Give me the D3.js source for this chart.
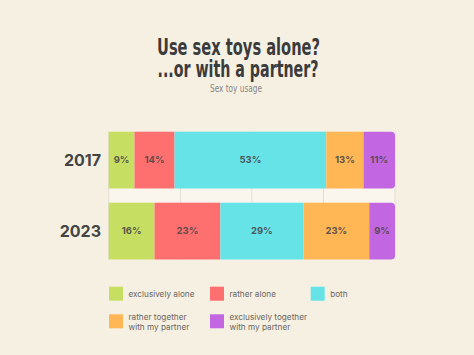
<!DOCTYPE html>
<html><head><meta charset="utf-8">
<script src="https://cdn.jsdelivr.net/npm/d3@7"></script>
<style>
html,body{margin:0;padding:0;background:#f6f0e3;}
svg{display:block;}
</style></head>
<body>
<svg id="chart" width="474" height="355"></svg>
<script>
const years = ["2017", "2023"];
const categories = ["exclusively alone", "rather alone", "both", "rather together with my partner", "exclusively together with my partner"];
const values2017 = [9, 14, 53, 13, 11];
const values2023 = [16, 23, 29, 23, 9];
const seriesValues = [values2017, values2023];
const colors = ["#c6df62", "#fe7070", "#66e3e7", "#ffb655", "#c266e1"];
const ticks = [0, 25, 50, 75, 100];
const legendLines = [["exclusively alone"], ["rather alone"], ["both"], ["rather together", "with my partner"], ["exclusively together", "with my partner"]];

const svg = d3.select("#chart");
svg.append("rect").attr("width", 474).attr("height", 355).attr("fill", "#f6f0e3");

const x = d3.scaleLinear().domain([0, 100]).range([108.7, 395]);
const y = d3.scaleBand().domain(years).range([131.7, 259.5]).paddingInner(0.2);

// plot background band
svg.append("rect").attr("x", x(0)).attr("y", y.range()[0]).attr("width", x(100) - x(0))
  .attr("height", y.range()[1] - y.range()[0]).attr("fill", "#faf6ee");
// gridlines
svg.append("g").selectAll("line").data(ticks).join("line")
  .attr("x1", d => x(d)).attr("x2", d => x(d))
  .attr("y1", y.range()[0]).attr("y2", y.range()[1])
  .attr("stroke", "#e2ddd2").attr("stroke-width", 1);

// title
const titleFont = "'Liberation Sans Narrow','DejaVu Sans Condensed','Roboto',sans-serif";
svg.append("text").attr("x", 238.5).attr("y", 55).attr("text-anchor", "middle").attr("fill", "#3b3b3b")
  .style("font-family", titleFont).style("font-weight", "bold").style("font-size", "23px")
  .attr("textLength", 163).attr("lengthAdjust", "spacingAndGlyphs").text("Use sex toys alone?");
svg.append("text").attr("x", 238).attr("y", 77).attr("text-anchor", "middle").attr("fill", "#3b3b3b")
  .style("font-family", titleFont).style("font-weight", "bold").style("font-size", "23px")
  .attr("textLength", 161).attr("lengthAdjust", "spacingAndGlyphs").text("...or with a partner?");
svg.append("text").attr("x", 236).attr("y", 92).attr("text-anchor", "middle")
  .attr("fill", "#8a8580")
  .style("font-family", titleFont)
  .style("font-size", "10px").attr("textLength", 52).attr("lengthAdjust", "spacingAndGlyphs")
  .text("Sex toy usage");

// bars
years.forEach((yr, i) => {
  const vals = seriesValues[i];
  let cum = 0;
  const segs = vals.map((v, j) => { const s = {x0: cum, x1: cum + v, v, j}; cum += v; return s; });
  const g = svg.append("g");
  const bh = y.bandwidth();
  const y0 = y(yr);
  segs.forEach(s => {
    const last = s.j === segs.length - 1;
    const x0 = x(s.x0), x1 = x(s.x1);
    if (last) {
      const r = 4;
      const p = d3.path();
      p.moveTo(x0, y0);
      p.lineTo(x1 - r, y0);
      p.arcTo(x1, y0, x1, y0 + r, r);
      p.lineTo(x1, y0 + bh - r);
      p.arcTo(x1, y0 + bh, x1 - r, y0 + bh, r);
      p.lineTo(x0, y0 + bh);
      p.closePath();
      g.append("path").attr("d", p.toString()).attr("fill", colors[s.j]);
    } else {
      g.append("rect").attr("x", x0).attr("y", y0).attr("width", x1 - x0).attr("height", bh)
        .attr("fill", colors[s.j]);
    }
    g.append("text").attr("x", (x0 + x1) / 2).attr("y", y0 + bh / 2).attr("dy", "0.35em")
      .attr("text-anchor", "middle").attr("fill", "#4a4747").attr("fill-opacity", 0.9)
      .style("font-family", "Inter, 'DejaVu Sans', sans-serif").style("font-weight", "bold")
      .style("font-size", "9.5px").text(s.v + "%");
  });
  svg.append("text").attr("x", 101).attr("y", y0 + bh / 2).attr("dy", "0.36em")
    .attr("text-anchor", "end").attr("fill", "#444")
    .style("font-family", "Inter, 'DejaVu Sans', sans-serif").style("font-weight", "bold")
    .style("font-size", "16px").text(yr);
});

// legend
const legPos = [[109, 286.7], [210, 286.7], [310.7, 286.7], [109, 314.3], [210, 314.3]];
categories.forEach((c, i) => {
  const [lx, ly] = legPos[i];
  svg.append("rect").attr("x", lx).attr("y", ly).attr("width", 14).attr("height", 14).attr("fill", colors[i]);
  const lines = legendLines[i];
  const t = svg.append("text").attr("fill", "#6a6560")
    .style("font-family", "Inter, 'DejaVu Sans', sans-serif").style("font-size", "8.2px");
  if (lines.length === 1) {
    t.append("tspan").attr("x", lx + 19.5).attr("y", ly + 10).text(lines[0]);
  } else {
    t.append("tspan").attr("x", lx + 19.5).attr("y", ly + 5.7).text(lines[0]);
    t.append("tspan").attr("x", lx + 19.5).attr("y", ly + 15.9).text(lines[1]);
  }
});
</script>
</body></html>
